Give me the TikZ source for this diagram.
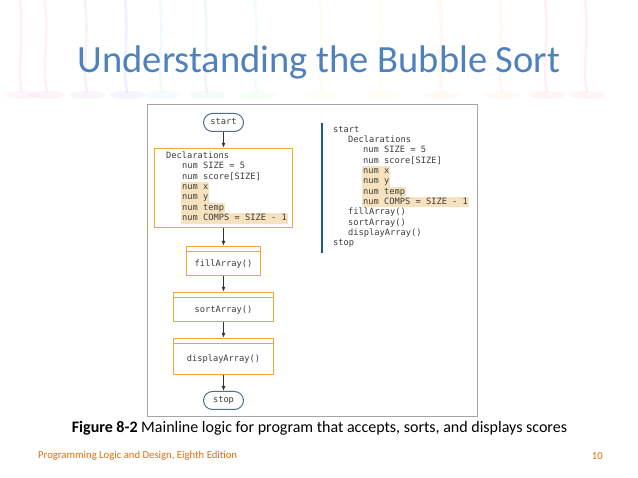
\documentclass[tikz,border=0pt]{standalone}
\usepackage{fontspec}
\setmainfont{Carlito}
\newfontfamily\codefont[Color=3C3C3C]{DejaVu Sans Mono}
\newfontfamily\titlefont[Color=4F81BD]{Carlito}
\newfontfamily\footfont[Color=E46C0A]{Carlito}
\usetikzlibrary{arrows.meta}
\definecolor{boxorange}{RGB}{236,168,50}
\definecolor{termblue}{RGB}{80,110,140}
\definecolor{hlcol}{RGB}{246,226,190}
\definecolor{barblue}{RGB}{30,90,130}
\definecolor{framegray}{RGB}{165,165,165}
\begin{document}
\begin{tikzpicture}[x=1pt,y=-1pt,
  code/.style={font=\codefont\fontsize{8.7}{10.4}\selectfont, inner sep=0pt, text height=7.6pt, text depth=2.8pt},
  codel/.style={code, anchor=west},
  hl/.style={codel, fill=hlcol, inner xsep=0.8pt},
  term/.style={draw=termblue, line width=1pt, rounded corners=9pt, minimum width=40pt, minimum height=18pt, inner sep=0pt},
  termtxt/.style={code, text height=6pt, text depth=1.5pt},
  procbox/.style={draw=boxorange, line width=1.2pt, inner sep=0pt},
  procline/.style={draw=boxorange, line width=1.2pt},
  flow/.style={-{Latex[length=5pt,width=4pt]}, line width=1pt, draw=black!80},
  drip/.style={line width=2.5pt, draw opacity=0.06, line cap=round}
]
\useasboundingbox (0,0) rectangle (638,478);
\fill[white] (0,0) rectangle (638,478);
% faint paint drips in the background
\foreach \x/\c in {20/magenta,45/magenta,85/violet,125/blue,160/cyan,205/teal,255/green,320/lime,380/yellow,440/orange,500/orange,545/red,585/red}{
  \draw[drip, draw=\c] (\x,0) .. controls (\x+4,40) and (\x-3,70) .. (\x+2,92);
  \fill[\c, fill opacity=0.04] (\x+2,95) ellipse (18pt and 4pt);
}
% figure frame
\draw[framegray, line width=1pt, fill=white] (147.5,104.5) rectangle (477.5,416.5);
% ---- shapes first ----
\node[term] (start) at (223.5,122.5) {};
\node[procbox, minimum width=138pt, minimum height=79pt] (decl) at (223.5,188) {};
\node[procbox, minimum width=74pt, minimum height=29pt] (nfill) at (223.5,261) {};
\draw[procline] ([yshift=-6pt]nfill.north west) -- ([yshift=-6pt]nfill.north east);
\node[procbox, minimum width=100pt, minimum height=29pt] (nsort) at (223.5,307) {};
\draw[procline] ([yshift=-6pt]nsort.north west) -- ([yshift=-6pt]nsort.north east);
\node[procbox, minimum width=100pt, minimum height=36pt] (ndisp) at (223.5,356.5) {};
\draw[procline] ([yshift=-6pt]ndisp.north west) -- ([yshift=-6pt]ndisp.north east);
\node[term] (stop) at (223.5,400.5) {};
\draw[flow] (start) -- (decl);
\draw[flow] (decl) -- (nfill);
\draw[flow] (nfill) -- (nsort);
\draw[flow] (nsort) -- (ndisp);
\draw[flow] (ndisp) -- (stop);
\coordinate (bartop) at (322,123);
\coordinate (barbot) at (322,253);
\draw[barblue, line width=2pt] (bartop) -- (barbot);
% highlights
\node[hl] (h3) at (181.2,187.2) {\phantom{num x}};
\node[hl] (h4) at (181.2,197.6) {\phantom{num y}};
\node[hl] (h5) at (181.2,208) {\phantom{num temp}};
\node[hl] (h6) at (181.2,218.4) {\phantom{num COMPS = SIZE - 1}};
\node[hl] (g4) at (362.2,171.2) {\phantom{num x}};
\node[hl] (g5) at (362.2,181.5) {\phantom{num y}};
\node[hl] (g6) at (362.2,191.8) {\phantom{num temp}};
\node[hl] (g7) at (362.2,202.1) {\phantom{num COMPS = SIZE - 1}};
% ---- texts ----
\node[font=\titlefont\fontsize{38.5}{42}\selectfont] (title) at (319,62) {Understanding the Bubble Sort};
\node[termtxt] (starttxt) at (start) {start};
\node[termtxt] (stoptxt) at (stop) {stop};
\node[codel] (d0) at (166,156) {Declarations};
\node[codel] (d1) at (182,166.4) {num SIZE = 5};
\node[codel] (d2) at (182,176.8) {num score[SIZE]};
\node[codel] (d3) at (182,187.2) {num x};
\node[codel] (d4) at (182,197.6) {num y};
\node[codel] (d5) at (182,208) {num temp};
\node[codel] (d6) at (182,218.4) {num COMPS = SIZE - 1};
\node[code] (filltxt) at (223.5,264) {fillArray()};
\node[code] (sorttxt) at (223.5,310) {sortArray()};
\node[code] (disptxt) at (223.5,359) {displayArray()};
\node[codel] (p0) at (333,130) {start};
\node[codel] (p1) at (348,140.3) {Declarations};
\node[codel] (p2) at (363,150.6) {num SIZE = 5};
\node[codel] (p3) at (363,160.9) {num score[SIZE]};
\node[codel] (p4) at (363,171.2) {num x};
\node[codel] (p5) at (363,181.5) {num y};
\node[codel] (p6) at (363,191.8) {num temp};
\node[codel] (p7) at (363,202.1) {num COMPS = SIZE - 1};
\node[codel] (p8) at (348,212.4) {fillArray()};
\node[codel] (p9) at (348,222.7) {sortArray()};
\node[codel] (p10) at (348,233) {displayArray()};
\node[codel] (p11) at (333,243.3) {stop};
% caption
\node[font=\fontsize{16}{18}\selectfont] (cap) at (319.5,428) {\textbf{Figure 8-2} Mainline logic for program that accepts, sorts, and displays scores};
% footer
\node[font=\footfont\fontsize{10.7}{12}\selectfont, anchor=west, inner sep=0pt] (foot) at (38,456) {Programming Logic and Design, Eighth Edition};
\node[font=\footfont\fontsize{10.7}{12}\selectfont, anchor=east, inner sep=0pt] (pnum) at (603,456) {10};
\end{tikzpicture}
\end{document}
